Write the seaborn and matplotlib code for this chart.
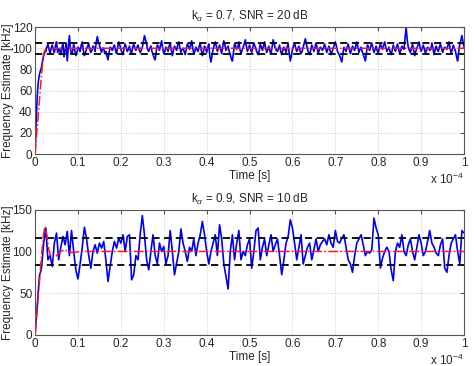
from matplotlib import pyplot as plt
import seaborn as sns
import pandas as pd
import numpy as np

# time axis in units of 1e-4 s
step = 0.005

top_blue = [
    0, 55, 75, 82, 93, 97, 104, 95, 103, 96, 106, 99, 94, 104, 98, 88, 112, 95, 104, 93,
    101, 97, 106, 93, 99, 104, 96, 102, 97, 111, 103, 96, 100, 97, 89, 101, 98, 103, 95, 106,
    99, 94, 104, 97, 102, 95, 104, 98, 103, 96, 101, 112, 104, 97, 102, 94, 89, 103, 98, 107,
    95, 101, 97, 105, 93, 102, 98, 106, 96, 100, 94, 104, 99, 107, 95, 101, 97, 105, 93, 102,
    96, 104, 87, 99, 106, 97, 103, 95, 107, 98, 102, 94, 88, 104, 99, 106, 95, 101, 108, 97,
    103, 96, 105, 99, 94, 104, 98, 106, 96, 102, 95, 108, 100, 97, 103, 94, 101, 96, 104, 88,
    99, 105, 97, 102, 95, 101, 109, 99, 94, 103, 97, 105, 95, 101, 98, 104, 96, 102, 94, 100,
    106, 97, 93, 87, 101, 97, 104, 95, 102, 98, 106, 96, 101, 94, 88, 103, 98, 105, 96, 102,
    95, 104, 99, 106, 97, 101, 94, 103, 97, 104, 95, 102, 99, 120, 101, 96, 104, 93, 100, 106,
    97, 103, 95, 101, 98, 105, 94, 102, 97, 104, 96, 101, 99, 106, 95, 103, 97, 88, 104, 112,
    101,
]

# readings half-way between the points above
top_blue_mid = [
    30, 68, 79, 88, 96, 101, 99, 100, 99, 102, 96, 98, 101, 92, 105, 101, 99, 97, 98, 96,
    100, 103, 98, 96, 102, 99, 98, 101, 105, 106, 99, 100, 95, 93, 96, 100, 101, 98, 101, 103,
    96, 100, 101, 99, 97, 101, 100, 101, 99, 98, 106, 108, 99, 100, 97, 91, 97, 101, 103, 100,
    97, 100, 102, 98, 98, 100, 103, 101, 99, 97, 99, 102, 103, 100, 97, 99, 102, 98, 97, 100,
    101, 92, 93, 103, 102, 100, 99, 102, 103, 100, 97, 90, 96, 102, 101, 99, 98, 104, 102, 100,
    99, 101, 102, 96, 98, 101, 102, 100, 99, 97, 101, 104, 98, 100, 97, 98, 99, 101, 95, 93,
    102, 100, 99, 98, 97, 105, 104, 96, 98, 100, 101, 100, 98, 100, 101, 100, 99, 98, 97, 103,
    102, 95, 90, 95, 99, 101, 99, 98, 100, 102, 101, 99, 97, 91, 96, 100, 102, 100, 99, 98,
    100, 101, 103, 101, 99, 97, 98, 100, 101, 99, 98, 100, 110, 108, 98, 100, 98, 97, 103, 101,
    100, 99, 98, 100, 99, 100, 98, 99, 101, 100, 99, 100, 103, 100, 99, 100, 92, 96, 107, 106,
]

bottom_blue = [
    0, 35, 70, 80, 110, 128, 90, 95, 82, 110, 122, 90, 105, 118, 108, 124, 95, 125, 100, 78,
    67, 85, 105, 129, 115, 95, 80, 100, 108, 98, 110, 104, 112, 90, 64, 82, 100, 112, 104, 116,
    110, 120, 100, 118, 120, 66, 72, 95, 90, 120, 143, 120, 90, 78, 100, 120, 95, 85, 110, 100,
    106, 85, 95, 125, 100, 72, 86, 100, 127, 110, 100, 88, 105, 100, 115, 95, 110, 120, 136, 120,
    100, 85, 100, 110, 120, 95, 132, 115, 85, 70, 55, 100, 120, 90, 110, 125, 90, 100, 95, 108,
    115, 80, 100, 125, 128, 90, 105, 115, 95, 108, 120, 100, 108, 115, 95, 72, 90, 110, 118, 138,
    128, 110, 90, 105, 120, 85, 95, 105, 110, 90, 102, 115, 100, 108, 112, 115, 108, 120, 110, 105,
    125, 112, 110, 116, 120, 105, 90, 85, 75, 95, 110, 115, 120, 108, 95, 100, 98, 102, 140, 128,
    120, 80, 92, 100, 105, 100, 78, 65, 100, 110, 105, 120, 100, 95, 108, 115, 100, 90, 105, 120,
    110, 95, 100, 112, 125, 110, 105, 98, 95, 108, 115, 80, 75, 95, 110, 115, 120, 100, 85, 125,
    122,
]

top_red_t = [0, 0.005, 0.01, 0.015, 0.02, 0.025, 0.03, 1.0]
top_red = [0, 25, 50, 75, 95, 100, 100, 100]

bottom_red_t = [0, 0.005, 0.01, 0.015, 0.02, 0.023, 0.027, 0.032, 0.037, 0.042, 0.05,
                0.06, 0.069, 0.078, 0.087, 0.1, 0.12, 1.0]
bottom_red = [0, 30, 62, 95, 122, 130, 122, 102, 94, 92, 95,
              100, 102, 100, 98.5, 99.5, 100, 100]

top_bounds = [95, 105]
bottom_bounds = [84, 116]

titles = [r"k$_{\alpha}$ = 0.7, SNR = 20 dB", r"k$_{\alpha}$ = 0.9, SNR = 10 dB"]
ylims = [(0, 120), (0, 150)]
yticks = [np.arange(0, 121, 20), [0, 50, 100, 150]]

sns.set_style("white")
plt.rcParams["font.family"] = ["Liberation Sans", "DejaVu Sans"]
plt.rcParams["mathtext.fontset"] = "custom"
plt.rcParams["mathtext.rm"] = "Liberation Sans"
plt.rcParams["mathtext.it"] = "Liberation Sans:italic"


def _interleave(main, mid):
    out = []
    for a, b in zip(main[:-1], mid):
        out += [a, b]
    out.append(main[-1])
    return out


def _draw(ax, blue, dt, red_t, red, bounds, title, ylim, ytk):
    t = np.arange(len(blue)) * dt
    df = pd.DataFrame({"time": t, "freq": blue})
    rdf = pd.DataFrame({"time": red_t, "freq": red})
    for b in bounds:
        ax.axhline(b, color="black", ls="--", lw=1.3, dashes=(4, 2.5), zorder=3)
    sns.lineplot(data=df, x="time", y="freq", ax=ax, color="#0000ee", lw=1.2,
                 estimator=None, sort=False, zorder=2)
    sns.lineplot(data=rdf, x="time", y="freq", ax=ax, color="#ff1a1a", lw=1.1,
                 ls="-.", estimator=None, sort=False, zorder=4)
    ax.set_xlim(0, 1)
    ax.set_ylim(*ylim)
    ax.set_xticks(np.arange(0, 1.01, 0.1))
    ax.set_xticklabels(["0"] + ["%g" % v for v in np.round(np.arange(0.1, 1.01, 0.1), 1)[:-1]] + ["1"])
    ax.set_yticks(ytk)
    ax.grid(True, ls=":", color="#c8c8c8", lw=0.7)
    ax.tick_params(direction="in", top=True, right=True, length=3, labelsize=8.5,
                   pad=2, color="#555555")
    for s in ax.spines.values():
        s.set_color("#555555")
        s.set_linewidth(0.8)
    ax.set_xlabel("Time [s]", fontsize=8.5, labelpad=1)
    ax.set_ylabel("Frequency Estimate [kHz]", fontsize=8.5)
    ax.yaxis.set_label_coords(-0.05, 0.5)
    ax.set_title(title, fontsize=8.5, pad=5)
    ax.text(1.0, -0.2, r"x 10$^{-4}$", transform=ax.transAxes, ha="right",
            va="center", fontsize=8.5)


fig = plt.figure(figsize=(4.74, 3.66), dpi=100)
ax1 = fig.add_axes([0.074, 0.579, 0.905, 0.347])
ax2 = fig.add_axes([0.074, 0.085, 0.905, 0.342])

_draw(ax1, _interleave(top_blue, top_blue_mid), step / 2, top_red_t, top_red,
      top_bounds, titles[0], ylims[0], yticks[0])
_draw(ax2, bottom_blue, step, bottom_red_t, bottom_red,
      bottom_bounds, titles[1], ylims[1], yticks[1])

fig.savefig("out.png", dpi=100)
